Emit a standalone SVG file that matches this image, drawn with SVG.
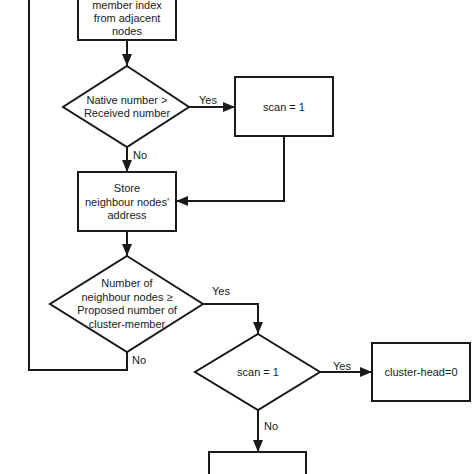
<svg xmlns="http://www.w3.org/2000/svg" width="474" height="474" viewBox="0 0 474 474">
<style>
.s{fill:#fff;stroke:#1a1a1a;stroke-width:2}
.c{fill:none;stroke:#1a1a1a;stroke-width:2}
text{font-family:"Liberation Sans",Arial,sans-serif;font-size:11px;fill:#1a1a1a}
.m{text-anchor:middle}
</style>
<defs>
<marker id="a" markerUnits="userSpaceOnUse" markerWidth="12" markerHeight="10" refX="12" refY="5" orient="auto">
<path d="M0,0 L12,5 L0,10 Z" fill="#1a1a1a"/>
</marker>
</defs>
<rect width="474" height="474" fill="#fff"/>
<g id="connectors">
<line class="c" x1="127" y1="40" x2="127" y2="66" marker-end="url(#a)"/>
<line class="c" x1="189" y1="107" x2="235" y2="107" marker-end="url(#a)"/>
<polyline class="c" points="284,136 284,201 176,201" marker-end="url(#a)"/>
<line class="c" x1="127" y1="147" x2="127" y2="172" marker-end="url(#a)"/>
<line class="c" x1="127" y1="231" x2="127" y2="256" marker-end="url(#a)"/>
<polyline class="c" points="203,304 258,304 258,334" marker-end="url(#a)"/>
<polyline class="c" points="127,352 127,370 29,370 29,0"/>
<line class="c" x1="320" y1="372" x2="372" y2="372" marker-end="url(#a)"/>
<line class="c" x1="258" y1="410" x2="258" y2="452" marker-end="url(#a)"/>
<text x="199" y="104">Yes</text>
<text x="133" y="159">No</text>
<text x="212" y="295">Yes</text>
<text x="132" y="364">No</text>
<text x="333" y="370">Yes</text>
<text x="264" y="430">No</text>
</g>
<g id="receive">
<rect class="s" x="78" y="-20" width="98" height="60"/>
<text class="m" x="127" y="9">member index</text>
<text class="m" x="127" y="22">from adjacent</text>
<text class="m" x="127" y="35">nodes</text>
</g>
<g id="compare">
<polygon class="s" points="127,66 189,107 127,147 63,107"/>
<text class="m" x="127" y="104">Native number &gt;</text>
<text class="m" x="127" y="117">Received number</text>
</g>
<g id="scan1">
<rect class="s" x="235" y="77" width="98" height="59"/>
<text class="m" x="284" y="111">scan = 1</text>
</g>
<g id="store">
<rect class="s" x="78" y="172" width="98" height="59"/>
<text class="m" x="127" y="192">Store</text>
<text class="m" x="127" y="206">neighbour nodes'</text>
<text class="m" x="127" y="219">address</text>
</g>
<g id="neighbours">
<polygon class="s" points="127,256 203,304 127,352 50,304"/>
<text class="m" x="127" y="287">Number of</text>
<text class="m" x="127" y="301">neighbour nodes ≥</text>
<text class="m" x="127" y="314">Proposed number of</text>
<text class="m" x="127" y="328">cluster-member</text>
</g>
<g id="scancheck">
<polygon class="s" points="258,334 320,372 258,410 195,372"/>
<text class="m" x="258" y="376">scan = 1</text>
</g>
<g id="head0">
<rect class="s" x="372" y="343" width="98" height="58"/>
<text class="m" x="421" y="376">cluster-head=0</text>
</g>
<g id="bottom">
<rect class="s" x="209" y="452" width="97" height="40"/>
</g>
</svg>
